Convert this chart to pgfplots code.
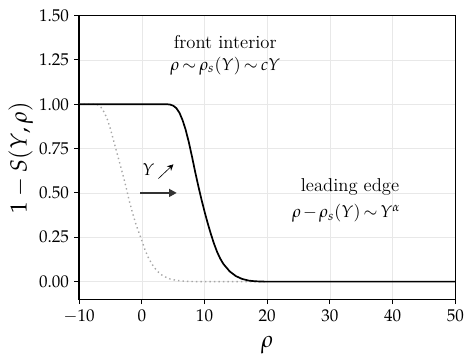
\documentclass[border=0pt]{standalone}
\usepackage{mathpazo}
\usepackage{pgfplots}
\pgfplotsset{compat=1.18}
\usetikzlibrary{arrows.meta}
\newcommand{\tightmath}[1]{\fontsize{11}{13}\selectfont$\thickmuskip=3mu\medmuskip=2mu #1$}
\begin{document}
\begin{tikzpicture}
\useasboundingbox (-51pt,-40.6pt) rectangle (254.6pt,193pt);
\begin{axis}[
  scale only axis,
  width=242.6pt, height=183pt,
  xmin=-10, xmax=50, ymin=-0.1, ymax=1.5,
  xtick={-10,0,...,50},
  ytick={0,0.25,...,1.5},
  yticklabel style={/pgf/number format/.cd,fixed,fixed zerofill,precision=2},
  tick align=outside,
  xtick pos=bottom, ytick pos=left,
  major tick length=3pt,
  tick style={black, line width=0.7pt},
  axis line style={line width=0.8pt},
  grid=major,
  grid style={gray!18, line width=0.4pt},
  tick label style={font=\fontsize{11}{13}\selectfont},
  xlabel={$\rho$},
  ylabel={$1-S(Y,\rho)$},
  label style={font=\fontsize{15}{18}\selectfont},
  ylabel style={yshift=-3pt},
  xlabel style={yshift=-2pt},
  clip=true,
]
\addplot[gray!70, dotted, line width=0.9pt] coordinates {
(-10,1) (-7.5,1) (-7,0.997) (-6.5,0.982) (-6,0.955) (-5.5,0.915) (-5,0.86)
(-4.5,0.795) (-4,0.73) (-3.5,0.665) (-3,0.6) (-2.5,0.53) (-2,0.455) (-1.5,0.39)
(-1,0.33) (-0.5,0.28) (0,0.232) (0.5,0.18) (1,0.138) (1.5,0.105) (2,0.079)
(2.5,0.058) (3,0.042) (3.5,0.03) (4.5,0.015) (5.5,0.007) (7,0.002) (8.5,0) (20,0)
};
\addplot[black, line width=1.1pt] coordinates {
(-10,1) (4,1) (4.5,0.998) (5,0.992) (5.5,0.978) (6,0.952) (6.5,0.91) (7,0.855)
(7.5,0.785) (8,0.705) (8.5,0.62) (9,0.54) (9.5,0.465) (10,0.395) (10.5,0.33)
(11,0.27) (11.5,0.215) (12,0.168) (12.5,0.13) (13,0.1) (14,0.058) (15,0.031)
(16,0.015) (17,0.006) (18,0.002) (19.5,0) (50,0)
};
\begin{scope}[font=\fontsize{12}{14}\selectfont, every node/.style={inner sep=0.5pt}]
\node at (axis cs:13.3,1.352) {front interior};
\node at (axis cs:13.3,1.215) {\tightmath{\rho\sim\rho_s(Y)\sim cY}};
\node at (axis cs:33.2,0.535) {leading edge};
\node at (axis cs:32.6,0.385) {\tightmath{\rho-\rho_s(Y)\sim Y^{\alpha}}};
\node at (axis cs:1.06,0.63) {\tightmath{Y}};
\end{scope}
\draw[-{Stealth[length=4pt,width=4pt]}, line width=0.4pt] (axis cs:2.65,0.581) -- (axis cs:5.04,0.661);
\draw[-{Triangle[length=5pt,width=5pt]}, line width=1.4pt, black!80] (axis cs:-0.27,0.5) -- (axis cs:5.58,0.5);
\end{axis}
\end{tikzpicture}
\end{document}
